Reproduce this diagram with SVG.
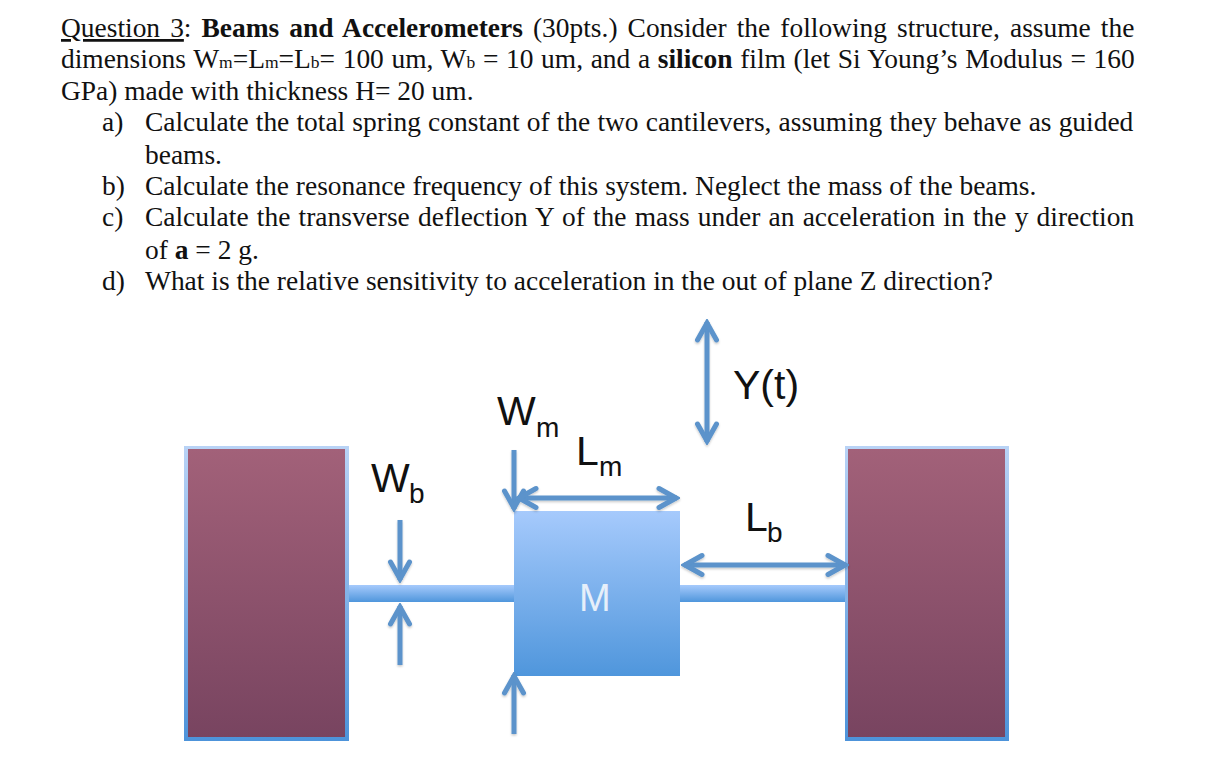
<svg xmlns="http://www.w3.org/2000/svg" width="1206" height="760" viewBox="0 0 1206 760">
<style>
.t{font-family:"Liberation Serif","Times New Roman",serif;font-size:27.45px;fill:#111}
.b{font-weight:700}
.s{font-size:17.5px}
.l{font-family:"Liberation Sans",Arial,sans-serif;font-size:41px;fill:#111}
.u{font-family:"Liberation Sans",Arial,sans-serif;font-size:28px;fill:#111}
.a{fill:none;stroke:#5b93cb;stroke-width:5;marker-end:url(#h)}
.d{marker-start:url(#h2)}
</style>
<defs>
<linearGradient id="mar" x1="0" y1="0" x2="0" y2="1"><stop offset="0" stop-color="#a26179"/><stop offset="1" stop-color="#784460"/></linearGradient>
<linearGradient id="blu" x1="0" y1="0" x2="0" y2="1"><stop offset="0" stop-color="#a6cafc"/><stop offset="1" stop-color="#4f96dc"/></linearGradient>
<linearGradient id="edge" x1="0" y1="0" x2="0" y2="1"><stop offset="0" stop-color="#b9d3f6"/><stop offset="1" stop-color="#4d93da"/></linearGradient>
<filter id="soft" x="-20%" y="-20%" width="140%" height="140%"><feDropShadow dx="0" dy="1.5" stdDeviation="1.2" flood-color="#000" flood-opacity="0.22"/></filter>
<marker id="h" viewBox="-22 -13 26 26" refX="1" refY="0" markerUnits="userSpaceOnUse" markerWidth="26" markerHeight="26" orient="auto"><path d="M-17 -9.5L0 0L-17 9.5" fill="none" stroke="#5b93cb" stroke-width="5" stroke-linecap="round"/></marker>
<marker id="h2" viewBox="-4 -13 26 26" refX="-1" refY="0" markerUnits="userSpaceOnUse" markerWidth="26" markerHeight="26" orient="auto"><path d="M17 -9.5L0 0L17 9.5" fill="none" stroke="#5b93cb" stroke-width="5" stroke-linecap="round"/></marker>
</defs>
<rect width="1206" height="760" fill="#fff"/>
<g id="question">
<text class="t" x="61" y="37" word-spacing="3.2"><tspan text-decoration="underline">Question 3</tspan>: <tspan class="b">Beams and Accelerometers</tspan> (30pts.) Consider the following structure, assume the</text>
<text class="t" x="61" y="68" word-spacing="0.8">dimensions W<tspan class="s">m</tspan>=L<tspan class="s">m</tspan>=L<tspan class="s">b</tspan>= 100 um, W<tspan class="s">b</tspan> = 10 um, and a <tspan class="b">silicon</tspan> film (let Si Young’s Modulus = 160</text>
<text class="t" x="61" y="100">GPa) made with thickness H= 20 um.</text>
<text class="t" x="102" y="131">a)</text>
<text class="t" x="145" y="131" word-spacing="0.3">Calculate the total spring constant of the two cantilevers, assuming they behave as guided</text>
<text class="t" x="145" y="164">beams.</text>
<text class="t" x="102" y="195">b)</text>
<text class="t" x="145" y="195">Calculate the resonance frequency of this system. Neglect the mass of the beams.</text>
<text class="t" x="102" y="226">c)</text>
<text class="t" x="145" y="226" word-spacing="1.36">Calculate the transverse deflection Y of the mass under an acceleration in the y direction</text>
<text class="t" x="145" y="259">of <tspan class="b">a</tspan> = 2 g.</text>
<text class="t" x="102" y="290">d)</text>
<text class="t" x="145" y="290">What is the relative sensitivity to acceleration in the out of plane Z direction?</text>
</g>
<g id="anchor-left"><rect x="184" y="446" width="165" height="295" fill="url(#edge)"/><rect x="188" y="449" width="157" height="288" fill="url(#mar)"/></g>
<g id="anchor-right"><rect x="845" y="446" width="164" height="295" fill="url(#edge)"/><rect x="848" y="449" width="157" height="288" fill="url(#mar)"/></g>
<g id="beam-left"><rect x="349" y="585" width="165" height="17" fill="url(#blu)"/></g>
<g id="beam-right"><rect x="680" y="585" width="165" height="17" fill="url(#blu)"/></g>
<g id="mass"><rect x="514" y="511" width="166" height="165" fill="url(#blu)"/><text x="579" y="611" font-family="Liberation Sans,Arial,sans-serif" font-size="38" fill="#e6effa">M</text></g>
<g id="connectors" filter="url(#soft)">
<path class="a d" d="M707 322V442"/>
<path class="a" d="M514 450V509"/>
<path class="a d" d="M518 498H677"/>
<path class="a d" d="M684 565H846"/>
<path class="a" d="M400 520V580"/>
<path class="a" d="M400 665V606"/>
<path class="a" d="M514 734V675"/>
</g>
<g id="labels">
<text class="l" x="733" y="399">Y(t)</text>
<text class="l" x="497" y="425">W</text><text class="u" x="536" y="437">m</text>
<text class="l" x="576" y="465">L</text><text class="u" x="599" y="476">m</text>
<text class="l" x="371" y="492">W</text><text class="u" x="409" y="503">b</text>
<text class="l" x="745" y="531">L</text><text class="u" x="767" y="542">b</text>
</g>
</svg>
